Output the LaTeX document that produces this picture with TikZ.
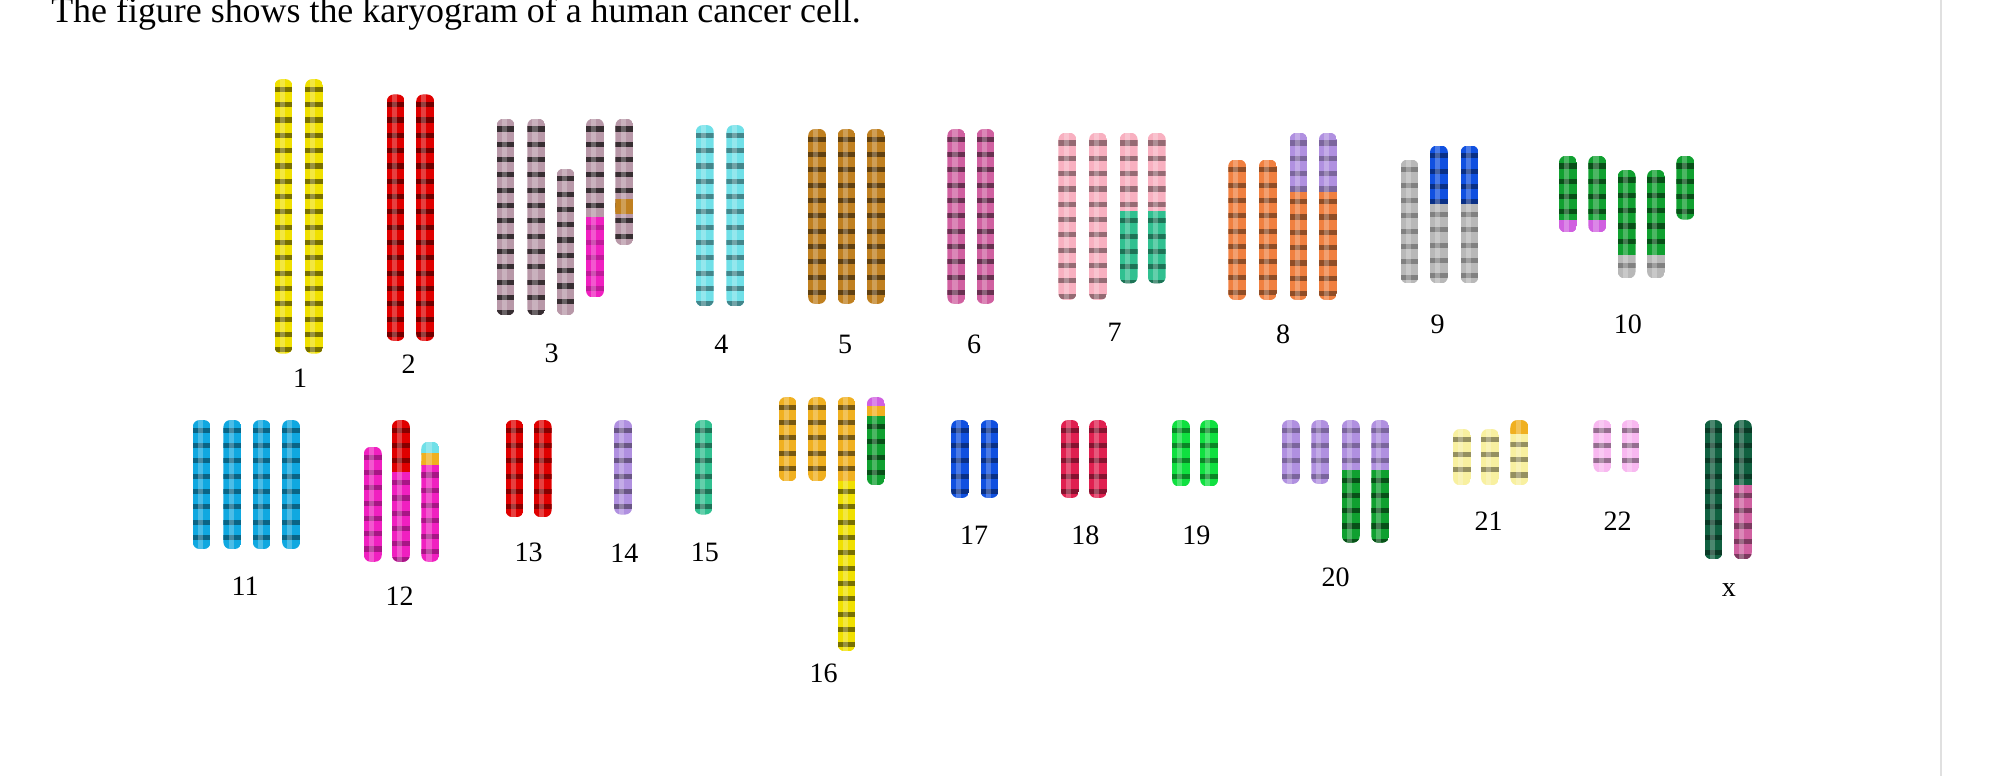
\documentclass[tikz,border=0pt]{standalone}
\usepackage{fontspec}
\setmainfont{Liberation Serif}
\newcommand\piece[7]{%
\begin{scope}
\clip[rounded corners=6] (#1-7,-#2) rectangle (#1+7,-#3);
\fill[fill=#6] (#1-7,-#4) rectangle (#1+7,-#5);
\pgfmathtruncatemacro\nb{max(0,(#5-#4-9)/12)}
\foreach \k in {0,...,\nb}{\fill[fill=#7] (#1-7,{-(#4+6+\k*12)}) rectangle (#1+7,{-(#4+10+\k*12)});}
\fill[white,opacity=.25] (#1-3,-#4) rectangle (#1+1,-#5);
\end{scope}}
\newcommand\chrom[5]{\piece{#1}{#2}{#3}{#2}{#3}{#4}{#5}}
\definecolor{cy}{HTML}{F0E000}
\definecolor{cr}{HTML}{E00000}
\definecolor{cm}{HTML}{B898A8}
\definecolor{cc}{HTML}{70E0E8}
\definecolor{cb}{HTML}{C08020}
\definecolor{cp}{HTML}{D060A0}
\definecolor{ck}{HTML}{F8B0C0}
\definecolor{ct}{HTML}{30C090}
\definecolor{co}{HTML}{F08040}
\definecolor{cv}{HTML}{B090E0}
\definecolor{cg}{HTML}{B8B8B8}
\definecolor{cu}{HTML}{1050E0}
\definecolor{cgr}{HTML}{10A030}
\definecolor{cs}{HTML}{10A8E0}
\definecolor{cmg}{HTML}{F020C0}
\definecolor{cor}{HTML}{F0B020}
\definecolor{ccr}{HTML}{E02050}
\definecolor{clg}{HTML}{10E040}
\definecolor{cpy}{HTML}{F8F0A0}
\definecolor{cpk}{HTML}{F8B8F0}
\definecolor{cdg}{HTML}{106040}
\definecolor{cpu}{HTML}{D060E0}
\begin{document}
\begin{tikzpicture}[x=0.04cm,y=0.04cm,lab/.style={font=\fontsize{25}{27}\selectfont}]
\useasboundingbox (0,0) rectangle (1568,-608);
\draw[black!12,line width=2] (1520,0) -- (1520,-608);
\node[anchor=base west,inner sep=0,font=\fontsize{32}{34}\selectfont] (t) at (40,-18) {The figure shows the karyogram of a human cancer cell.};
\chrom{222}{62}{277}{cy}{black!50!cy}\chrom{246}{62}{277}{cy}{black!50!cy}
\node[lab] (l1) at (235,-296) {1};
\chrom{310}{74}{267}{cr}{black!50!cr}\chrom{333}{74}{267}{cr}{black!50!cr}
\node[lab] (l2) at (320,-285) {2};
\chrom{396}{93}{247}{cm}{black!70!cm}\chrom{420}{93}{247}{cm}{black!70!cm}\chrom{443}{132}{247}{cm}{black!70!cm}
\piece{466}{93}{233}{93}{170}{cm}{black!70!cm}\piece{466}{93}{233}{170}{233}{cmg}{black!20!cmg}
\chrom{489}{93}{192}{cm}{black!70!cm}\piece{489}{93}{192}{156}{168}{cb}{cb}
\node[lab] (l3) at (432,-277) {3};
\chrom{552}{98}{240}{cc}{black!40!cc}\chrom{576}{98}{240}{cc}{black!40!cc}
\node[lab] (l4) at (565,-270) {4};
\chrom{640}{101}{238}{cb}{black!50!cb}\chrom{663}{101}{238}{cb}{black!50!cb}\chrom{686}{101}{238}{cb}{black!50!cb}
\node[lab] (l5) at (662,-270) {5};
\chrom{749}{101}{238}{cp}{black!50!cp}\chrom{772}{101}{238}{cp}{black!50!cp}
\node[lab] (l6) at (763,-270) {6};
\chrom{836}{104}{235}{ck}{black!40!ck}\chrom{860}{104}{235}{ck}{black!40!ck}
\piece{884}{104}{222}{104}{165}{ck}{black!40!ck}\piece{884}{104}{222}{165}{222}{ct}{black!40!ct}
\piece{906}{104}{222}{104}{165}{ck}{black!40!ck}\piece{906}{104}{222}{165}{222}{ct}{black!40!ct}
\node[lab] (l7) at (873,-260) {7};
\chrom{969}{125}{235}{co}{black!40!co}\chrom{993}{125}{235}{co}{black!40!co}
\piece{1017}{104}{235}{104}{150}{cv}{black!30!cv}\piece{1017}{104}{235}{150}{235}{co}{black!40!co}
\piece{1040}{104}{235}{104}{150}{cv}{black!30!cv}\piece{1040}{104}{235}{150}{235}{co}{black!40!co}
\node[lab] (l8) at (1005,-262) {8};
\chrom{1104}{125}{222}{cg}{black!30!cg}
\piece{1127}{114}{222}{114}{160}{cu}{black!40!cu}\piece{1127}{114}{222}{160}{222}{cg}{black!30!cg}
\piece{1151}{114}{222}{114}{160}{cu}{black!40!cu}\piece{1151}{114}{222}{160}{222}{cg}{black!30!cg}
\node[lab] (l9) at (1126,-254) {9};
\piece{1228}{122}{182}{122}{172}{cgr}{black!50!cgr}\piece{1228}{122}{182}{172}{182}{cpu}{cpu}
\piece{1251}{122}{182}{122}{172}{cgr}{black!50!cgr}\piece{1251}{122}{182}{172}{182}{cpu}{cpu}
\piece{1274}{133}{218}{133}{200}{cgr}{black!50!cgr}\piece{1274}{133}{218}{200}{218}{cg}{black!30!cg}
\piece{1297}{133}{218}{133}{200}{cgr}{black!50!cgr}\piece{1297}{133}{218}{200}{218}{cg}{black!30!cg}
\chrom{1320}{122}{172}{cgr}{black!50!cgr}
\node[lab] (l10) at (1275,-254) {10};
\chrom{158}{329}{430}{cs}{black!40!cs}\chrom{182}{329}{430}{cs}{black!40!cs}\chrom{205}{329}{430}{cs}{black!40!cs}\chrom{228}{329}{430}{cs}{black!40!cs}
\node[lab] (l11) at (192,-459) {11};
\chrom{292}{350}{440}{cmg}{black!30!cmg}
\piece{314}{329}{440}{329}{370}{cr}{black!40!cr}\piece{314}{329}{440}{370}{440}{cmg}{black!30!cmg}
\piece{337}{346}{440}{346}{355}{cc}{cc}\piece{337}{346}{440}{355}{364}{cor}{cor}\piece{337}{346}{440}{364}{440}{cmg}{black!30!cmg}
\node[lab] (l12) at (313,-467) {12};
\chrom{403}{329}{405}{cr}{black!40!cr}\chrom{425}{329}{405}{cr}{black!40!cr}
\node[lab] (l13) at (414,-433) {13};
\chrom{488}{329}{403}{cv}{black!40!cv}
\node[lab] (l14) at (489,-433) {14};
\chrom{551}{329}{403}{ct}{black!40!ct}
\node[lab] (l15) at (552,-433) {15};
\chrom{617}{311}{377}{cor}{black!50!cor}\chrom{640}{311}{377}{cor}{black!50!cor}
\piece{663}{311}{510}{311}{377}{cor}{black!50!cor}\piece{663}{311}{510}{377}{510}{cy}{black!50!cy}
\piece{686}{311}{380}{311}{318}{cpu}{cpu}\piece{686}{311}{380}{318}{326}{cor}{cor}\piece{686}{311}{380}{326}{380}{cgr}{black!50!cgr}
\node[lab] (l16) at (645,-527) {16};
\chrom{752}{329}{390}{cu}{black!40!cu}\chrom{775}{329}{390}{cu}{black!40!cu}
\node[lab] (l17) at (763,-419) {17};
\chrom{838}{329}{390}{ccr}{black!40!ccr}\chrom{860}{329}{390}{ccr}{black!40!ccr}
\node[lab] (l18) at (850,-419) {18};
\chrom{925}{329}{381}{clg}{black!40!clg}\chrom{947}{329}{381}{clg}{black!40!clg}
\node[lab] (l19) at (937,-419) {19};
\chrom{1011}{329}{379}{cv}{black!30!cv}\chrom{1034}{329}{379}{cv}{black!30!cv}
\piece{1058}{329}{425}{329}{368}{cv}{black!30!cv}\piece{1058}{329}{425}{368}{425}{cgr}{black!50!cgr}
\piece{1081}{329}{425}{329}{368}{cv}{black!30!cv}\piece{1081}{329}{425}{368}{425}{cgr}{black!50!cgr}
\node[lab] (l20) at (1046,-452) {20};
\chrom{1145}{336}{380}{cpy}{black!40!cpy}\chrom{1167}{336}{380}{cpy}{black!40!cpy}
\piece{1190}{329}{380}{329}{340}{cor}{cor}\piece{1190}{329}{380}{340}{380}{cpy}{black!40!cpy}
\node[lab] (l21) at (1166,-408) {21};
\chrom{1255}{329}{370}{cpk}{black!40!cpk}\chrom{1277}{329}{370}{cpk}{black!40!cpk}
\node[lab] (l22) at (1267,-408) {22};
\chrom{1342}{329}{438}{cdg}{black!40!cdg}
\piece{1365}{329}{438}{329}{380}{cdg}{black!40!cdg}\piece{1365}{329}{438}{380}{438}{cp}{black!40!cp}
\node[lab] (lx) at (1354,-462) {x};
\end{tikzpicture}
\end{document}
